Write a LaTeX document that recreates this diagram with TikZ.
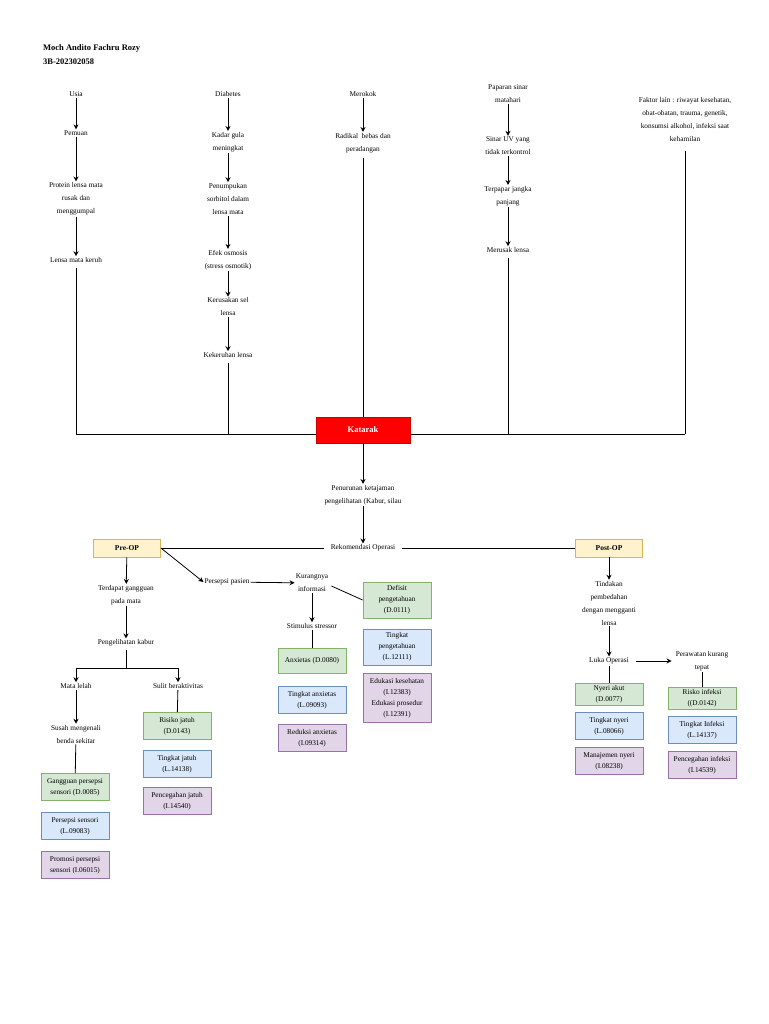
\documentclass[tikz,border=0pt]{standalone}
\usepackage{fontspec}
\setmainfont{Liberation Serif}
\usetikzlibrary{arrows.meta}
\definecolor{gf}{HTML}{D5E8D4}\definecolor{gd}{HTML}{82B366}
\definecolor{bf}{HTML}{DAE8FC}\definecolor{bd}{HTML}{6C8EBF}
\definecolor{pf}{HTML}{E1D5E7}\definecolor{pd}{HTML}{9673A6}
\definecolor{yf}{HTML}{FFF2CC}\definecolor{yd}{HTML}{D6B656}
\begin{document}
\begin{tikzpicture}[x=1pt,y=-1pt,
  every node/.style={font=\fontsize{7.3}{13}\selectfont,align=center,inner sep=1pt},
  arr/.style={-{Stealth[length=5pt,width=5pt]},line width=0.8pt},
  ln/.style={line width=0.8pt},
  box/.style={draw,line width=0.8pt,minimum width=68pt,minimum height=27pt,inner sep=1pt,font=\fontsize{7.3}{11}\selectfont},
  gbox/.style={box,fill=gf,draw=gd},
  bbox/.style={box,fill=bf,draw=bd},
  pbox/.style={box,fill=pf,draw=pd},
  ybox/.style={draw=yd,fill=yf,line width=0.8pt,minimum width=67pt,minimum height=18pt,font=\fontsize{7.5}{9}\selectfont\bfseries}]
\useasboundingbox (0,0) rectangle (768,1024);
\node[anchor=west,font=\fontsize{8.5}{14}\selectfont\bfseries,align=left] (title) at (42,55) {Moch Andito Fachru Rozy\\3B-202302058};
% column 1
\node (usia) at (76,94) {Usia};
\node (pemuan) at (76,133) {Pemuan};
\node (protein) at (76,199) {Protein lensa mata\\rusak dan\\menggumpal};
\node (keruh) at (76,260) {Lensa mata keruh};
\draw[arr] (usia) -- (pemuan);
\draw[arr] (pemuan) -- (protein);
\draw[arr] (protein) -- (keruh);
% column 2
\node (diab) at (228,94) {Diabetes};
\node (kadar) at (228,142) {Kadar gula\\meningkat};
\node (penum) at (228,199) {Penumpukan\\sorbitol dalam\\lensa mata};
\node (efek) at (228,260) {Efek osmosis\\(stress osmotik)};
\node (kerus) at (228,307) {Kerusakan sel\\lensa};
\node (kekeruh) at (228,355) {Kekeruhan lensa};
\draw[arr] (diab) -- (kadar);
\draw[arr] (kadar) -- (penum);
\draw[arr] (penum) -- (efek);
\draw[arr] (efek) -- (kerus);
\draw[arr] (kerus) -- (kekeruh);
% column 3
\node (merokok) at (363,94) {Merokok};
\node (radikal) at (363,143) {Radikal\ \ bebas dan\\peradangan};
\draw[arr] (merokok) -- (radikal);
% column 4
\node (paparan) at (508,94) {Paparan sinar\\matahari};
\node (uv) at (508,146) {Sinar UV yang\\tidak terkontrol};
\node (terpapar) at (508,196) {Terpapar jangka\\panjang};
\node (merusak) at (508,250) {Merusak lensa};
\draw[arr] (paparan) -- (uv);
\draw[arr] (uv) -- (terpapar);
\draw[arr] (terpapar) -- (merusak);
% column 5
\node (faktor) at (685,120) {Faktor lain : riwayat kesehatan,\\obat-obatan, trauma, genetik,\\konsumsi alkohol, infeksi saat\\kehamilan};
% Katarak
\coordinate (h1) at (76,434);
\coordinate (h2) at (228,434);
\coordinate (h4) at (508,434);
\coordinate (h5) at (685,434);
\draw[ln] (keruh.south) ++(0,4) -- (h1) -- (h5);
\draw[ln] (kekeruh.south) ++(0,4) -- (h2);
\draw[ln] (merusak.south) ++(0,4) -- (h4);
\draw[ln] (faktor.south) ++(0,8) -- (h5);
\node[draw=red!80!black,fill=red,text=white,minimum width=94pt,minimum height=26pt,font=\fontsize{8.5}{10}\selectfont\bfseries] (katarak) at (363,430) {Katarak};
\draw[ln] (radikal.south) ++(0,4) -- (katarak.north);
\node (penurun) at (363,495) {Penurunan ketajaman\\pengelihatan (Kabur, silau};
\draw[arr] (katarak) -- (penurun);
\node (rekom) at (363,548) {Rekomendasi Operasi};
\draw[arr] (penurun) -- (rekom);
\node[ybox] (pre) at (127,548) {Pre-OP};
\node[ybox] (post) at (609,548) {Post-OP};
\draw[ln] (pre.east) -- ([xshift=-6pt]rekom.west);
\draw[ln] ([xshift=6pt]rekom.east) -- (post.west);
% Pre-OP left branch
\node (terdapat) at (126,595) {Terdapat gangguan\\pada mata};
\draw[arr] (pre) -- (terdapat);
\node (kabur) at (126,643) {Pengelihatan kabur};
\draw[arr] (terdapat) -- (kabur);
\node (lelah) at (76,686) {Mata lelah};
\node (sulit) at (178,686) {Sulit beraktivitas};
\coordinate (sp) at (126,668);
\draw[ln] (kabur.south) ++(0,2) -- (sp);
\draw[arr] (sp) -| (lelah.north);
\draw[arr] (sp) -| (sulit.north);
\node (susah) at (76,734) {Susah mengenali\\benda sekitar};
\draw[arr] (lelah) -- (susah);
\node[gbox] (gps) at (75,787) {Gangguan persepsi\\sensori (D.0085)};
\node[bbox] (ps) at (75,826) {Persepsi sensori\\(L.09083)};
\node[pbox] (pps) at (75,865) {Promosi persepsi\\sensori (I.06015)};
\draw[ln] (susah) -- (gps);
\node[gbox] (rj) at (177,726) {Risiko jatuh\\(D.0143)};
\node[bbox] (tj) at (177,764) {Tingkat jatuh\\(L.14138)};
\node[pbox] (pj) at (177,801) {Pencegahan jatuh\\(I.14540)};
\draw[ln] (sulit) -- (rj);
% Persepsi pasien branch
\node (pasien) at (227,582) {Persepsi pasien};
\draw[arr] (pre.east) -- (pasien.west);
\node (kurang) at (312,583) {Kurangnya\\informasi};
\draw[arr] (pasien) -- (kurang);
\node (stim) at (312,626) {Stimulus stressor};
\draw[arr] (kurang) -- (stim);
\node[gbox,minimum height=25pt] (anx) at (312,661) {Anxietas (D.0080)};
\node[bbox] (tanx) at (312,700) {Tingkat anxietas\\(L.09093)};
\node[pbox] (ranx) at (312,738) {Reduksi anxietas\\(I.09314)};
\draw[ln] (stim) -- (anx);
\node[gbox,minimum height=36pt] (def) at (397,600) {Defisit\\pengetahuan\\(D.0111)};
\node[bbox,minimum height=36pt] (tp) at (397,647) {Tingkat\\pengetahuan\\(L.12111)};
\node[pbox,minimum height=49pt] (edu) at (397,698) {Edukasi kesehatan\\(I.12383)\\Edukasi prosedur\\(I.12391)};
\draw[ln] (kurang.east) ++(2,3) -- (def.west);
% Post-OP branch
\node (tindak) at (609,603) {Tindakan\\pembedahan\\dengan mengganti\\lensa};
\draw[arr] (post) -- (tindak);
\node (luka) at (609,661) {Luka Operasi};
\draw[arr] (tindak) -- (luka);
\node (rawat) at (702,661) {Perawatan kurang\\tepat};
\draw[arr] ([xshift=6pt]luka.east) -- ([xshift=-3pt]rawat.west);
\node[gbox,minimum height=22pt] (nyeri) at (609,694) {Nyeri akut\\(D.0077)};
\node[bbox] (tn) at (609,726) {Tingkat nyeri\\(L.08066)};
\node[pbox] (mn) at (609,761) {Manajemen nyeri\\(I.08238)};
\draw[ln] (luka) -- (nyeri);
\node[gbox,minimum height=22pt] (ri) at (702,698) {Risko infeksi\\((D.0142)};
\node[bbox] (ti) at (702,730) {Tingkat Infeksi\\(L.14137)};
\node[pbox] (pi) at (702,765) {Pencegahan infeksi\\(I.14539)};
\draw[ln] (rawat) -- (ri);
\end{tikzpicture}
\end{document}
